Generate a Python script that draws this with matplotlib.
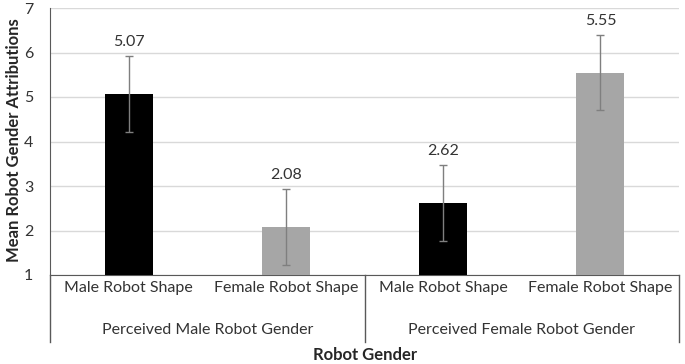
import matplotlib.pyplot as plt

plt.rcParams['font.family'] = ['Lato', 'DejaVu Sans']

shapes = ['Male Robot Shape', 'Female Robot Shape', 'Male Robot Shape', 'Female Robot Shape']
groups = ['Perceived Male Robot Gender', 'Perceived Female Robot Gender']
means = [5.07, 2.08, 2.62, 5.55]
errors = [0.86, 0.85, 0.86, 0.85]
colors = ['#000000', '#a6a6a6', '#000000', '#a6a6a6']
base = 1

fig = plt.figure(figsize=(6.85, 3.64), dpi=100)
ax = fig.add_axes([50 / 685, 89 / 364, 629 / 685, 267 / 364])

x = range(len(means))
heights = [m - base for m in means]
ax.bar(x, heights, bottom=base, width=0.305, color=colors, zorder=3)
ax.errorbar(x, means, yerr=errors, fmt='none', ecolor='#7f7f7f',
            elinewidth=1, capsize=3, capthick=1, zorder=4)

for i, (m, e) in enumerate(zip(means, errors)):
    ax.annotate(f'{m:.2f}', (i, m + e), xytext=(0, 5), textcoords='offset points',
                ha='center', va='bottom', fontsize=11.5, color='#333333')

ax.set_xlim(-0.5, len(means) - 0.5)
ax.set_ylim(1, 7)
ax.set_yticks(range(1, 8))
ax.yaxis.grid(True, color='#d9d9d9', linewidth=1, zorder=0)
ax.tick_params(axis='y', length=0, pad=12, labelsize=11.5, labelcolor='#333333')
ax.set_xticks([])
for s in ['top', 'right']:
    ax.spines[s].set_visible(False)
ax.spines['left'].set_color('#595959')
ax.spines['bottom'].set_color('#595959')

# category labels and separators below the axis
tr = ax.get_xaxis_transform()
for i, lab in enumerate(shapes):
    ax.text(i, -0.049, lab, transform=tr, ha='center', va='center',
            fontsize=11.5, color='#333333')
for j, g in enumerate(groups):
    ax.text(j * 2 + 0.5, -0.206, g, transform=tr, ha='center', va='center',
            fontsize=11.5, color='#333333')
for xs in [-0.5, 1.5, 3.5]:
    ax.plot([xs, xs], [0, -0.251], transform=tr, color='#595959',
            linewidth=1, clip_on=False)

fig.text(365 / 685, 1 - 355 / 364, 'Robot Gender', ha='center', va='center',
         fontsize=12, fontweight='bold', color='#262626')
fig.text(14 / 685, 1 - 140 / 364, 'Mean Robot Gender Attributions', ha='center',
         va='center', rotation=90, fontsize=12, fontweight='bold', color='#262626')

fig.savefig('out.png', dpi=100)
